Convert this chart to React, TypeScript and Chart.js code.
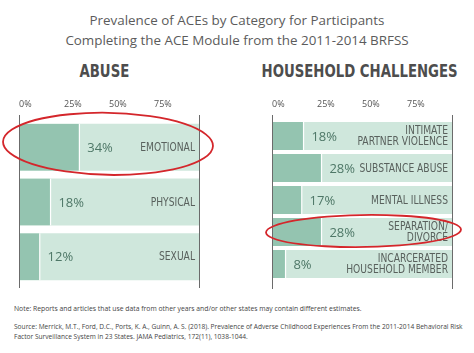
import React, { useEffect, useRef } from 'react';
import { Chart, registerables } from 'chart.js';

Chart.register(...registerables);

// ---- data ----
const TICK_LABELS = ['0%', '25%', '50%', '75%'];
const SCALE_MAX = 100;

const ABUSE_CATEGORIES = [['EMOTIONAL'], ['PHYSICAL'], ['SEXUAL']];
const ABUSE_VALUES = [34, 18, 12];

const HOUSEHOLD_CATEGORIES = [
  ['INTIMATE', 'PARTNER VIOLENCE'],
  ['SUBSTANCE ABUSE'],
  ['MENTAL ILLNESS'],
  ['SEPARATION/', 'DIVORCE'],
  ['INCARCERATED', 'HOUSEHOLD MEMBER'],
];
const HOUSEHOLD_VALUES = [18, 28, 17, 28, 8];

const ABUSE_CIRCLED = 0;
const HOUSEHOLD_CIRCLED = 3;

const TITLE_LINES = [
  'Prevalence of ACEs by Category for Participants',
  'Completing the ACE Module from the 2011-2014 BRFSS',
];
const NOTE = 'Note: Reports and articles that use data from other years and/or other states may contain different estimates.';
const SOURCE_LINES = [
  'Source: Merrick, M.T., Ford, D.C., Ports, K. A., Guinn, A. S. (2018). Prevalence of Adverse Childhood Experiences From the 2011-2014 Behavioral Risk',
  'Factor Surveillance System in 23 States. JAMA Pediatrics, 172(11), 1038-1044.',
];

// ---- styles ----
const DARK = '#94c4b0';
const LIGHT = '#cfe7dc';
const AXIS_LINE = '#6b6b6b';
const VALUE_COLOR = '#4e7767';
const CAT_COLOR = '#59615d';
const RING = '#d4262b';
const NARROW = 0.85;

const panelPlugin = {
  id: 'panelDecor',
  afterDatasetsDraw(chart: any, _args: any, opts: any) {
    const { ctx, chartArea } = chart;
    const x = chart.scales.x;
    const x0 = x.getPixelForValue(0);
    const x1 = x.getPixelForValue(SCALE_MAX);
    ctx.save();
    ctx.strokeStyle = AXIS_LINE;
    ctx.lineWidth = 1;
    [x0, x1].forEach((px: number) => {
      const p = Math.round(px) + 0.5;
      ctx.beginPath();
      ctx.moveTo(p, chartArea.top - opts.lineTop);
      ctx.lineTo(p, chartArea.bottom + opts.lineBottom);
      ctx.stroke();
    });
    const meta = chart.getDatasetMeta(0);
    meta.data.forEach((bar: any, i: number) => {
      const { x: bx, y: by } = bar.getProps(['x', 'y'], true);
      ctx.font = '13px "Open Sans", sans-serif';
      ctx.fillStyle = VALUE_COLOR;
      ctx.textAlign = 'left';
      ctx.textBaseline = 'middle';
      ctx.fillText(chart.data.datasets[0].data[i] + '%', bx + 7, by + 1);
      const lines: string[] = chart.data.labels[i];
      ctx.font = '12px "DejaVu Sans Condensed", "DejaVu Sans", sans-serif';
      ctx.fillStyle = CAT_COLOR;
      ctx.textAlign = 'right';
      const lh = 11.5;
      const startY = by - ((lines.length - 1) * lh) / 2 + 0.5;
      lines.forEach((t, k) => {
        ctx.save();
        ctx.translate(x1 - 4, startY + k * lh);
        ctx.scale(NARROW, 1);
        ctx.fillText(t, 0, 0);
        ctx.restore();
      });
    });
    ctx.restore();
  },
  afterDraw(chart: any, _args: any, opts: any) {
    const ring = opts.ring;
    if (!ring) return;
    const el = chart.getDatasetMeta(1).data[ring.index];
    if (!el) return;
    const { x: R, base: L, y, height } = el.getProps(['x', 'base', 'y', 'height'], true);
    const cx = (L + R) / 2 + ring.dx;
    const cy = y + ring.dy;
    const rx = (R - L) / 2 + ring.padX;
    const ry = height / 2 + ring.padY;
    const { ctx } = chart;
    ctx.save();
    ctx.strokeStyle = RING;
    ctx.lineWidth = 1.8;
    ctx.beginPath();
    ctx.ellipse(cx, cy, rx, ry, ring.rot, -Math.PI * 0.62, Math.PI * 1.48);
    ctx.stroke();
    ctx.restore();
  },
};

type PanelProps = {
  categories: string[][];
  values: number[];
  left: number;
  padLeft: number;
  padRight: number;
  padBottom: number;
  barPct: number;
  lineBottom: number;
  ring: any;
};

function Panel(props: PanelProps) {
  const ref = useRef<HTMLCanvasElement>(null);
  useEffect(() => {
    const canvas = ref.current!;
    const chart = new Chart(canvas, {
      type: 'bar',
      data: {
        labels: props.categories as any,
        datasets: [
          {
            data: props.values,
            backgroundColor: DARK,
            borderColor: '#ffffff',
            borderWidth: { top: 0, bottom: 0, left: 0, right: 1.5 } as any,
            borderSkipped: false,
            grouped: false,
            barPercentage: props.barPct,
            categoryPercentage: 1,
          },
          {
            data: props.values.map(() => SCALE_MAX),
            backgroundColor: LIGHT,
            borderWidth: 0,
            grouped: false,
            barPercentage: props.barPct,
            categoryPercentage: 1,
          },
        ],
      },
      options: {
        indexAxis: 'y',
        animation: false,
        responsive: false,
        events: [],
        layout: { padding: { left: props.padLeft, right: props.padRight, top: 8, bottom: props.padBottom } },
        plugins: {
          legend: { display: false },
          tooltip: { enabled: false },
          panelDecor: { lineTop: 5, lineBottom: props.lineBottom, ring: props.ring },
        } as any,
        scales: {
          x: {
            position: 'top',
            min: 0,
            max: SCALE_MAX,
            grid: { display: false, drawTicks: false },
            border: { display: false },
            ticks: {
              stepSize: 25,
              align: 'start',
              padding: 10.6,
              color: '#555555',
              font: { family: '"Open Sans", sans-serif', size: 9 },
              callback: (_v: any, i: number) => TICK_LABELS[i] ?? '',
            },
          },
          y: { display: false },
        },
      },
      plugins: [panelPlugin as any],
    });
    return () => chart.destroy();
  }, []);
  return (
    <canvas
      ref={ref}
      width={237}
      height={220}
      style={{ position: 'absolute', left: props.left, top: 80, width: 237, height: 220 }}
    />
  );
}

export default function App() {
  const heading: React.CSSProperties = {
    position: 'absolute',
    top: 61,
    lineHeight: '20px',
    textAlign: 'center',
    fontFamily: '"DejaVu Sans Condensed", "DejaVu Sans", sans-serif',
    fontWeight: 700,
    fontSize: 18,
    color: '#4d4d4d',
    whiteSpace: 'nowrap',
  };
  const narrowSpan: React.CSSProperties = {
    display: 'inline-block',
    transform: 'scaleX(0.82)',
    transformOrigin: 'center',
  };
  const small: React.CSSProperties = {
    position: 'absolute',
    left: 14,
    fontFamily: '"Open Sans", sans-serif',
    lineHeight: '10px',
    color: '#444444',
    whiteSpace: 'nowrap',
  };
  return (
    <div
      style={{
        position: 'fixed',
        left: 0,
        top: 0,
        width: 474,
        height: 353,
        background: '#ffffff',
        overflow: 'hidden',
      }}
    >
      <div
        style={{
          position: 'absolute',
          left: 0,
          top: 10,
          width: 474,
          textAlign: 'center',
          fontFamily: '"Open Sans", sans-serif',
          fontSize: 13.4,
          lineHeight: '20px',
          color: '#5b5b5b',
        }}
      >
        {TITLE_LINES.map((t) => (
          <div key={t}>{t}</div>
        ))}
      </div>
      <div style={{ ...heading, left: 0, width: 208 }}>
        <span style={narrowSpan}>ABUSE</span>
      </div>
      <div style={{ ...heading, left: 200, width: 320 }}>
        <span style={narrowSpan}>HOUSEHOLD CHALLENGES</span>
      </div>
      <Panel
        categories={ABUSE_CATEGORIES}
        values={ABUSE_VALUES}
        left={0}
        padLeft={19}
        padRight={38}
        padBottom={16}
        barPct={0.86}
        lineBottom={4}
        ring={{ index: ABUSE_CIRCLED, dx: -1, dy: -3.5, padX: 15, padY: 7.5, rot: 0.02 }}
      />
      <Panel
        categories={HOUSEHOLD_CATEGORIES}
        values={HOUSEHOLD_VALUES}
        left={237}
        padLeft={35}
        padRight={22}
        padBottom={20}
        barPct={0.875}
        lineBottom={9}
        ring={{ index: HOUSEHOLD_CIRCLED, dx: 1.5, dy: -1, padX: 7.5, padY: 2, rot: -0.015 }}
      />
      <div style={{ ...small, top: 304, fontSize: 6.8 }}>{NOTE}</div>
      <div style={{ ...small, top: 322, fontSize: 6.6 }}>
        {SOURCE_LINES.map((t) => (
          <div key={t}>{t}</div>
        ))}
      </div>
    </div>
  );
}
